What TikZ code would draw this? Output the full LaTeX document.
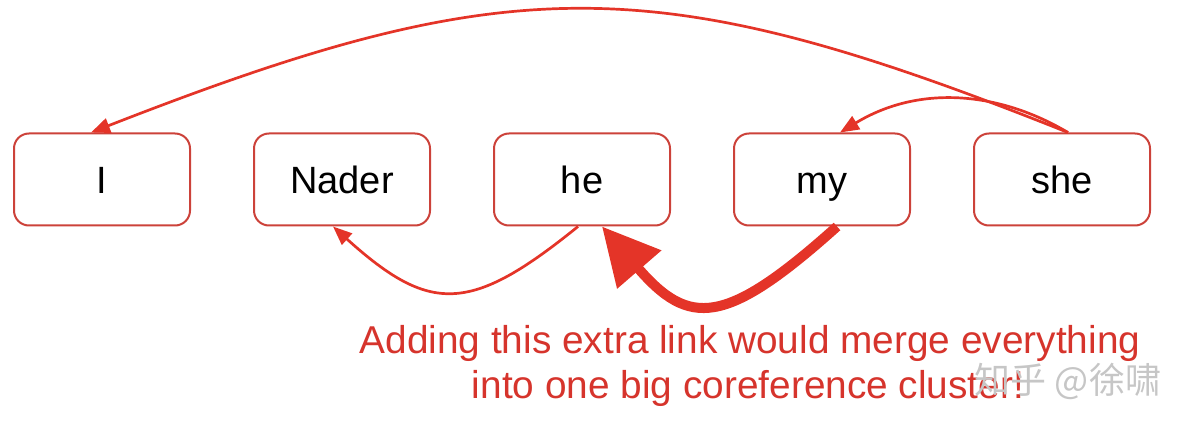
\documentclass[tikz,border=0pt]{standalone}
\usepackage{fontspec}
\setmainfont{Liberation Sans}
\newfontfamily\cjkfont{Noto Sans CJK SC}
\usetikzlibrary{arrows.meta}
\definecolor{boxred}{RGB}{204,66,58}
\definecolor{arrred}{RGB}{228,52,40}
\definecolor{txtred}{RGB}{214,52,44}
\begin{document}
\begin{tikzpicture}[x=1pt,y=-1pt,
  mention/.style={draw=boxred, line width=2pt, rounded corners=15pt,
    minimum width=176pt, minimum height=92pt, inner sep=0pt,
    text height=35pt, text depth=7pt,
    font=\fontsize{38}{44}\selectfont, text=black},
  link/.style={draw=arrred, line width=2.7pt, -{Triangle[length=19pt,width=15pt]}},
  biglink/.style={draw=arrred, line width=10pt, -{Triangle[length=57pt,width=56pt]}},
  note/.style={text=txtred, font=\fontsize{38.8}{45}\selectfont, anchor=base, inner sep=0pt}]
\useasboundingbox (0,0) rectangle (1190,430);
\node[mention] (I)     at (102,179.5) {I};
\node[mention] (Nader) at (342,179.5) {Nader};
\node[mention] (he)    at (582,179.5) {he};
\node[mention] (my)    at (822,179.5) {my};
\node[mention] (she)   at (1062,179.5) {she};
% she -> I
\draw[link] ([xshift=6pt]she.north) .. controls (656,-32) and (512,-32) .. ([xshift=-11pt]I.north);
% she -> my
\draw[link] ([xshift=6pt]she.north) .. controls (1000,92) and (920,84) .. ([xshift=18pt]my.north);
% he -> Nader
\draw[link] ([xshift=-4pt]he.south) .. controls (470,314) and (430,314) .. ([xshift=-9pt]Nader.south);
% my -> he (extra link)
\draw[biglink] ([xshift=15pt]my.south) .. controls (725,327) and (689,327) .. ([xshift=20pt]he.south);
% note
\node[note] (l1) at (750,353) {Adding this extra link would merge everything};
\node[note] (l2) at (748,398) {into one big coreference cluster!};
% watermark
\node[text=gray!45, font=\cjkfont\fontsize{36}{40}\selectfont, inner sep=0pt] (wm) at (1068,381) {知乎 @徐啸};
\end{tikzpicture}
\end{document}
